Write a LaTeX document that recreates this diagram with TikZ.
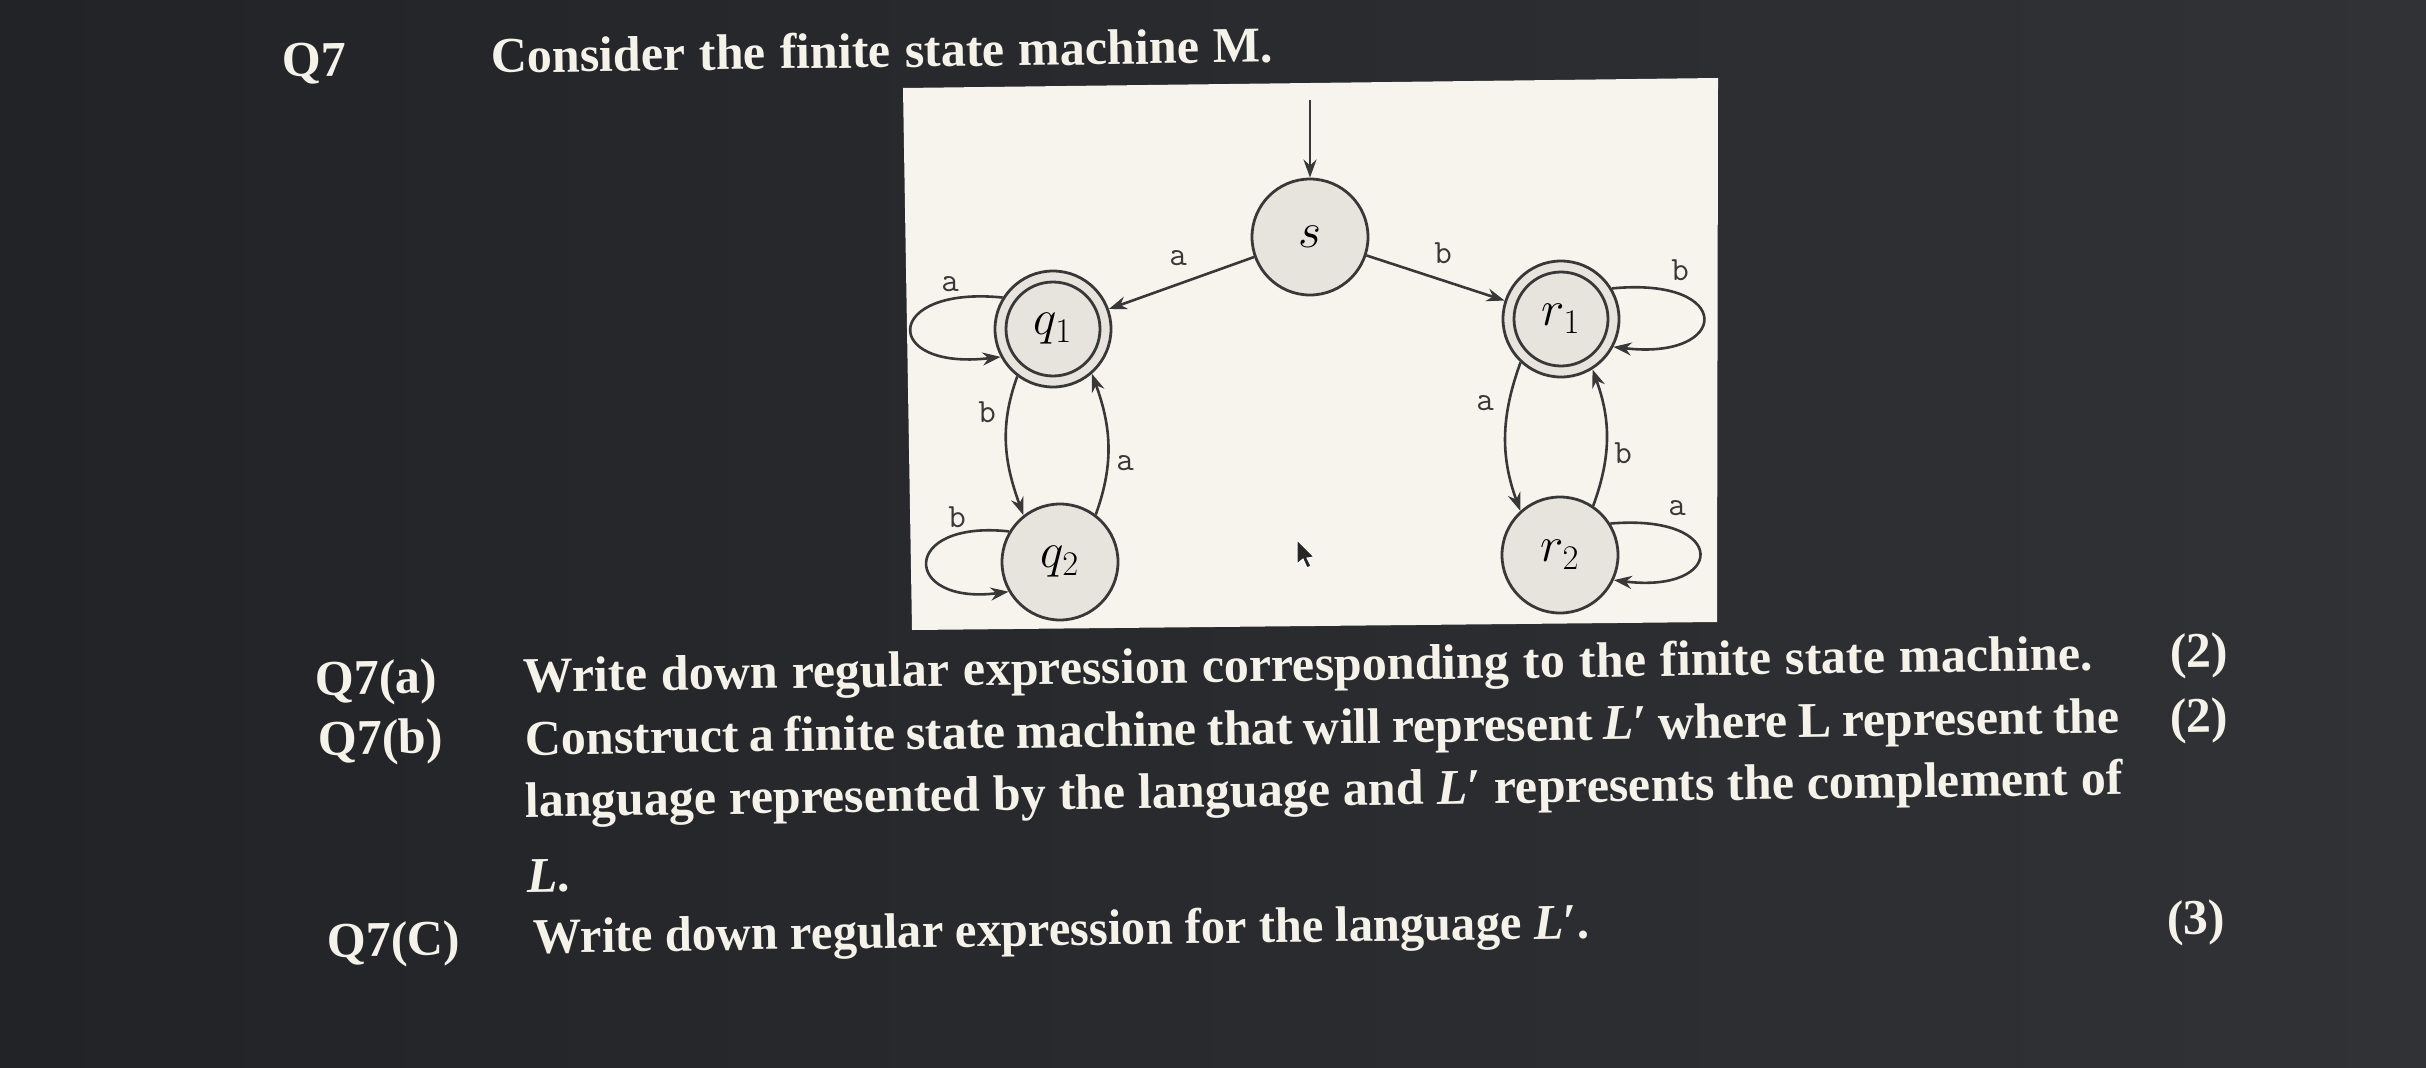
\documentclass[tikz,border=0pt]{standalone}
\usepackage{fontspec}
\setmainfont{Liberation Serif}
\usetikzlibrary{arrows.meta}
\definecolor{bgA}{HTML}{222326}
\definecolor{bgB}{HTML}{313236}
\definecolor{paper}{HTML}{F6F4EC}
\definecolor{statefill}{HTML}{E6E4DC}
\definecolor{ink}{HTML}{383838}
\definecolor{txt}{HTML}{F5F2EA}
\newcommand{\stlab}[1]{\scalebox{2}{\fontsize{24}{29}\selectfont$#1$}}
\tikzset{
  state/.style={circle, draw=ink, fill=statefill, line width=2.8pt, minimum size=116pt, inner sep=0pt},
  trans/.style={draw=ink, line width=2.6pt, -{Stealth[length=18pt,width=13pt]}},
  lbl/.style={font=\ttfamily\fontsize{34}{40}\selectfont, text=ink, inner sep=0pt},
  qtext/.style={font=\bfseries\fontsize{50}{60}\selectfont, text=txt, anchor=base west, inner sep=0pt, rotate=0.8},
}
\begin{document}
\begin{tikzpicture}[x=1pt,y=1pt]
\useasboundingbox (0,0) rectangle (2426,-1068);
\shade[left color=bgA, right color=bgB] (0,0) rectangle (2426,-1068);
% paper
\fill[paper] (903,-88) -- (1718,-78) -- (1717,-622) -- (912,-630) -- cycle;
% states
\node[state] (s) at (1310,-237) {\stlab{s}};
\node[state] (q1) at (1053,-329) {\stlab{q_1}};
\node[state] (q2) at (1060,-562) {\stlab{q_2}};
\node[state] (r1) at (1561,-319) {\stlab{r_1}};
\node[state] (r2) at (1560,-555) {\stlab{r_2}};
\draw[ink, line width=2.8pt] (q1) circle[radius=47];
\draw[ink, line width=2.8pt] (r1) circle[radius=47];
% start
\coordinate (init) at (1310,-100);
\draw[trans] (init) -- (s);
% transitions
\draw[trans] (s) -- (q1);
\draw[trans] (s) -- (r1);
\draw[trans] (q1.148) .. controls +(-120,12) and +(-120,-14) .. (q1.208);
\draw[trans] (q2.149) .. controls +(-110,12) and +(-107,-14) .. (q2.210);
\draw[trans] (r1.31) .. controls +(124,12) and +(117,-14) .. (r1.-28);
\draw[trans] (r2.32) .. controls +(120,10) and +(112,-14) .. (r2.-25);
\draw[trans] (q1.233) to[out=250,in=110] (q2.128);
\draw[trans] (q2.53) to[out=70,in=290] (q1.311);
\draw[trans] (r1.227) to[out=250,in=110] (r2.132);
\draw[trans] (r2.56) to[out=70,in=290] (r1.302);
% labels
\node[lbl] (l1) at (1178,-258) {a};
\node[lbl] (l2) at (1443,-253) {b};
\node[lbl] (l3) at (950,-284) {a};
\node[lbl] (l4) at (987,-412) {b};
\node[lbl] (l5) at (1125,-463) {a};
\node[lbl] (l6) at (957,-517) {b};
\node[lbl] (l7) at (1680,-270) {b};
\node[lbl] (l8) at (1485,-403) {a};
\node[lbl] (l9) at (1623,-453) {b};
\node[lbl] (l10) at (1677,-508) {a};
% cursor
\filldraw[fill=black!85, draw=white, line width=1pt] (1297,-540) -- (1297,-564) -- (1303,-559) -- (1307,-568) -- (1311,-566) -- (1307,-558) -- (1314,-557) -- cycle;
% text
\node[qtext] (t0) at (282,-77) {Q7};
\node[qtext] (t1) at (491,-73) {\makebox[782pt][s]{Consider the finite state machine M.}};
\node[qtext] (ta) at (315,-695) {Q7(a)};
\node[qtext] (tat) at (523,-692) {\makebox[1570pt][s]{Write down regular expression corresponding to the finite state machine.}};
\node[qtext] (tam) at (2170,-668) {(2)};
\node[qtext] (tb) at (318,-755) {Q7(b)};
\node[qtext] (tbt) at (525,-755) {\makebox[1595pt][s]{Construct a finite state machine that will represent \textit{L}′ where L represent the}};
\node[qtext] (tbm) at (2170,-733) {(2)};
\node[qtext] (tb2) at (525,-817) {\makebox[1598pt][s]{language represented by the language and \textit{L}′ represents the complement of}};
\node[qtext] (tb3) at (527,-892) {\textit{L}.};
\node[qtext] (tc) at (327,-957) {Q7(C)};
\node[qtext] (tct) at (533,-953) {\scalebox{0.97}[1]{Write down regular expression for the language \textit{L}′.}};
\node[qtext] (tcm) at (2167,-935) {(3)};
\end{tikzpicture}
\end{document}
